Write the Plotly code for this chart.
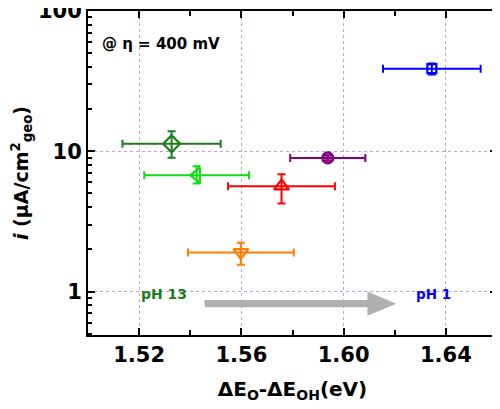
import plotly.graph_objects as go

# descriptor difference (eV) with horizontal error
x_vals = [1.5327, 1.5425, 1.5757, 1.5938, 1.6345, 1.5598]
x_err = [0.0192, 0.0205, 0.0209, 0.0147, 0.0191, 0.0207]

# current density at 400 mV overpotential (uA/cm2 geo)
y_vals = [11.3, 6.75, 5.64, 8.96, 38.8, 1.90]
y_err_plus = [2.6, 1.07, 1.22, 0.4, 3.5, 0.33]
y_err_minus = [2.3, 0.86, 1.39, 0.4, 3.5, 0.35]

colors = ["#1b7d1b", "#11dd11", "#ff0000", "#800080", "#0000ff", "#ff7f00"]
fills = ["rgba(0,0,0,0)"] * 3 + ["rgba(128,0,128,0.55)"] + ["rgba(0,0,0,0)"] * 2
symbols = ["diamond", "triangle-left", "triangle-up",
           "circle", "square", "triangle-down"]
sizes = [13, 13, 13, 11, 9, 13]

x_range = [1.50, 1.66]
y_range = [-0.31, 2]  # log10

FONT = "DejaVu Sans, Liberation Sans, sans-serif"
GRID = "#b99ff2"

fig = go.Figure()

for i in range(len(x_vals)):
    fig.add_trace(go.Scatter(
        x=[x_vals[i]], y=[y_vals[i]], mode="markers",
        marker=dict(symbol=symbols[i], size=sizes[i], color=fills[i],
                    line=dict(width=2.2, color=colors[i])),
        error_x=dict(type="data", array=[x_err[i]], color=colors[i],
                     thickness=2, width=4),
        error_y=dict(type="data", array=[y_err_plus[i]],
                     arrayminus=[y_err_minus[i]], color=colors[i],
                     thickness=2, width=4),
        showlegend=False,
    ))

# empty trace so the tick-only overlay axes get drawn
fig.add_trace(go.Scatter(x=[], y=[], xaxis="x2", yaxis="y2",
                         showlegend=False, hoverinfo="skip"))

# big gray arrow (pH 13 -> pH 1)
ax0, ax1, axh = 1.5456, 1.6206, 1.6093
yc, sh, hh = 0.0966, 0.0113, 0.0375
fig.add_shape(
    type="path", xref="x", yref="paper",
    path=(f"M {ax0} {yc - sh} L {axh} {yc - sh} L {axh} {yc - hh} "
          f"L {ax1} {yc} L {axh} {yc + hh} L {axh} {yc + sh} "
          f"L {ax0} {yc + sh} Z"),
    fillcolor="#b0b0b0", line=dict(width=0), layer="above",
)

fig.add_annotation(x=1.52, y=0.0966, xref="x", yref="paper", xanchor="left",
                   text="pH 13", showarrow=False,
                   font=dict(family=FONT, size=14, color="#1b7d1b", weight="bold"))
fig.add_annotation(x=1.6275, y=0.0966, xref="x", yref="paper", xanchor="left",
                   text="pH 1", showarrow=False,
                   font=dict(family=FONT, size=13.5, color="#0000ff", weight="bold"))
fig.add_annotation(x=0.029, y=0.932, xref="paper", yref="paper", xanchor="left",
                   text="@ η = 400 mV", showarrow=False,
                   font=dict(family=FONT, size=15, color="black", weight="bold"))

# page body adds an 8 px offset, margins shifted to compensate
fig.update_layout(
    width=500, height=409,
    margin=dict(l=80, r=11, t=3, b=82),
    plot_bgcolor="white", paper_bgcolor="white",
    font=dict(family=FONT, color="black"),
    xaxis=dict(
        range=x_range, tick0=1.52, dtick=0.04, tickformat=".2f", ticks="",
        showline=True, linewidth=2, linecolor="black", mirror=True,
        showgrid=True, gridcolor=GRID, griddash="dot", gridwidth=1,
        zeroline=False, automargin=False,
        tickfont=dict(family=FONT, size=21, weight="bold"),
        title=dict(text="ΔE<sub>O</sub>-ΔE<sub>OH</sub>(eV)", standoff=16,
                   font=dict(family=FONT, size=20, weight="bold")),
    ),
    yaxis=dict(
        type="log", range=y_range, dtick=1, ticks="",
        showline=True, linewidth=2, linecolor="black", mirror=True,
        showgrid=True, gridcolor=GRID, griddash="dot", gridwidth=1,
        zeroline=False, automargin=False, ticklabeloverflow="allow",
        tickfont=dict(family=FONT, size=21, weight="bold"),
        title=dict(text="<i>i</i> (μA/cm<sup>2</sup><sub>geo</sub>)", standoff=8,
                   font=dict(family=FONT, size=19, weight="bold")),
    ),
    # tick-only copies of the axes (inside ticks on all four sides)
    xaxis2=dict(
        overlaying="x", anchor="y2", side="bottom", range=x_range,
        tick0=1.52, dtick=0.04, showticklabels=False, showgrid=False,
        zeroline=False, automargin=False, mirror="allticks",
        ticks="inside", ticklen=7, tickwidth=2, tickcolor="black",
        minor=dict(ticks="inside", dtick=0.02, ticklen=5, tickwidth=2,
                   tickcolor="black", showgrid=False),
    ),
    yaxis2=dict(
        overlaying="y", anchor="x2", side="left", type="log", range=y_range,
        dtick=1, showticklabels=False, showgrid=False,
        zeroline=False, automargin=False, mirror="allticks",
        ticks="inside", ticklen=7, tickwidth=2, tickcolor="black",
        minor=dict(ticks="inside", dtick="D1", ticklen=4, tickwidth=2,
                   tickcolor="black", showgrid=False),
    ),
)

fig.write_html("out.html")
